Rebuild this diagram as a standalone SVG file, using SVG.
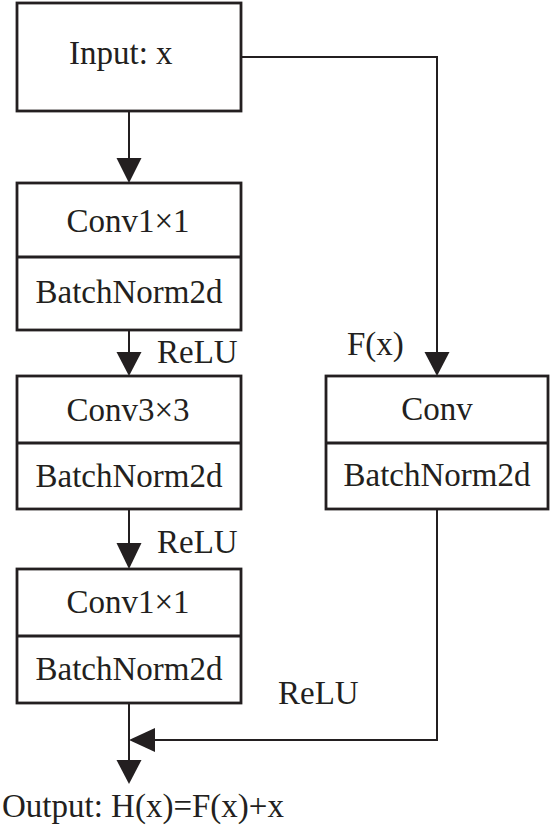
<svg xmlns="http://www.w3.org/2000/svg" width="553" height="825" viewBox="0 0 553 825">
<style>
.box{fill:#fff;stroke:#231f20;stroke-width:2.8}
.div{stroke:#231f20;stroke-width:2.8}
.ln{fill:none;stroke:#231f20;stroke-width:2}
.ah{fill:#231f20}
text{font-family:"Liberation Serif","Times New Roman",serif;font-size:33px;fill:#231f20}
.c{text-anchor:middle}
</style>
<rect width="553" height="825" fill="#fff"/>
<g id="connectors">
<line class="ln" x1="129" y1="111" x2="129" y2="160"/>
<polygon class="ah" points="116.5,158 141.5,158 129,183"/>
<line class="ln" x1="129" y1="330" x2="129" y2="354"/>
<polygon class="ah" points="116.5,352 141.5,352 129,376"/>
<line class="ln" x1="129" y1="509" x2="129" y2="545"/>
<polygon class="ah" points="116.5,543 141.5,543 129,569"/>
<line class="ln" x1="129" y1="703" x2="129" y2="762"/>
<polygon class="ah" points="116.5,760 141.5,760 129,784"/>
<polyline class="ln" points="241,57 437,57 437,354"/>
<polygon class="ah" points="424.5,352 449.5,352 437,376"/>
<polyline class="ln" points="437,509 437,740 153,740"/>
<polygon class="ah" points="155,728 155,752 129,740"/>
<text x="157" y="363">ReLU</text>
<text x="157" y="553">ReLU</text>
<text x="278" y="704">ReLU</text>
<text x="347" y="355">F(x)</text>
</g>
<g id="input">
<rect class="box" x="17" y="3" width="224" height="108"/>
<text x="69" y="64">Input: x</text>
</g>
<g id="block1">
<rect class="box" x="17" y="183" width="224" height="147"/>
<line class="div" x1="17" y1="257" x2="241" y2="257"/>
<text class="c" x="128" y="232">Conv1×1</text>
<text class="c" x="129" y="303">BatchNorm2d</text>
</g>
<g id="block2">
<rect class="box" x="17" y="376" width="224" height="133"/>
<line class="div" x1="17" y1="443" x2="241" y2="443"/>
<text class="c" x="128" y="421">Conv3×3</text>
<text class="c" x="129" y="487">BatchNorm2d</text>
</g>
<g id="block3">
<rect class="box" x="17" y="569" width="224" height="134"/>
<line class="div" x1="17" y1="636" x2="241" y2="636"/>
<text class="c" x="128" y="613">Conv1×1</text>
<text class="c" x="129" y="680">BatchNorm2d</text>
</g>
<g id="shortcut">
<rect class="box" x="326" y="376" width="222" height="133"/>
<line class="div" x1="326" y1="443" x2="548" y2="443"/>
<text class="c" x="437" y="420">Conv</text>
<text class="c" x="437" y="486">BatchNorm2d</text>
</g>
<g id="output">
<text x="2" y="817">Output: H(x)=F(x)+x</text>
</g>
</svg>
